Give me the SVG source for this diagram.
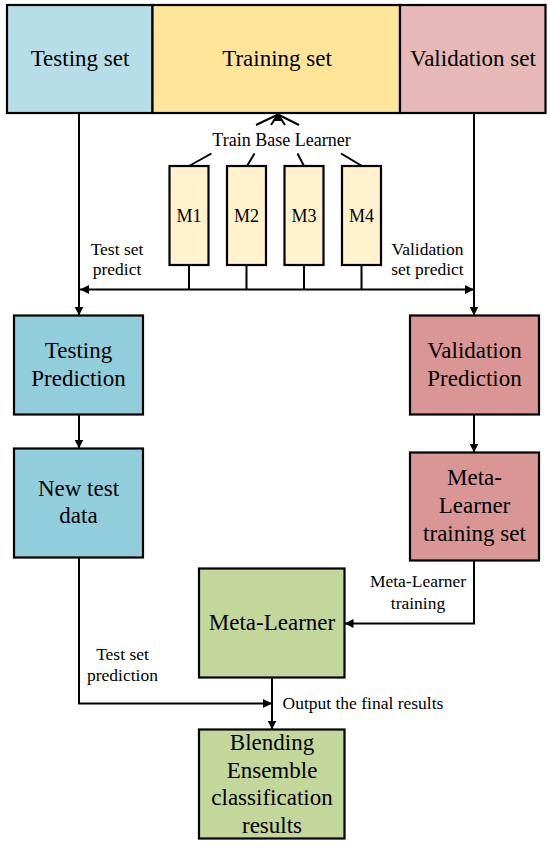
<svg xmlns="http://www.w3.org/2000/svg" width="550" height="848" viewBox="0 0 550 848">
<defs>
<marker id="ah" viewBox="0 0 10 10" refX="10" refY="5" markerWidth="9" markerHeight="9" markerUnits="userSpaceOnUse" orient="auto">
<path d="M0,0 L10,5 L0,10 z" fill="#000"/>
</marker>
</defs>
<style>
.box{stroke:#000;stroke-width:2.2}
.big{font-family:"Liberation Serif","Times New Roman",serif;font-size:23px;fill:#000;text-anchor:middle}
.sm{font-family:"Liberation Serif","Times New Roman",serif;font-size:17.5px;fill:#000;text-anchor:middle}
.mt{font-family:"Liberation Serif","Times New Roman",serif;font-size:18px;fill:#000;text-anchor:middle}
.ln{stroke:#000;stroke-width:2;fill:none}
.arr{stroke:#000;stroke-width:2;fill:none;marker-end:url(#ah)}
</style>
<rect width="550" height="848" fill="#fff"/>
<g id="testing-set">
<rect class="box" x="7" y="5" width="145.5" height="108" fill="#b7dee8"/>
<text class="big" x="80" y="66">Testing set</text>
</g>
<g id="training-set">
<rect class="box" x="152.5" y="5" width="247.5" height="108" fill="#fee599"/>
<text class="big" x="277" y="66">Training set</text>
</g>
<g id="validation-set">
<rect class="box" x="400" y="5" width="145.5" height="108" fill="#e6b8b7"/>
<text class="big" x="473" y="66">Validation set</text>
</g>
<g id="m1"><rect class="box" x="169.5" y="166" width="39" height="99" fill="#fff2cc"/><text class="mt" x="189" y="222">M1</text></g>
<g id="m2"><rect class="box" x="227" y="166" width="39" height="99" fill="#fff2cc"/><text class="mt" x="246.5" y="222">M2</text></g>
<g id="m3"><rect class="box" x="284.5" y="166" width="39" height="99" fill="#fff2cc"/><text class="mt" x="304" y="222">M3</text></g>
<g id="m4"><rect class="box" x="342" y="166" width="39" height="99" fill="#fff2cc"/><text class="mt" x="361.5" y="222">M4</text></g>
<g id="testing-prediction">
<rect class="box" x="14" y="315.5" width="129" height="99" fill="#92cddc"/>
<text class="big" x="78.5" y="358">Testing</text>
<text class="big" x="78.5" y="386">Prediction</text>
</g>
<g id="validation-prediction">
<rect class="box" x="410" y="315.5" width="129" height="99" fill="#da9694"/>
<text class="big" x="474.5" y="358">Validation</text>
<text class="big" x="474.5" y="386">Prediction</text>
</g>
<g id="new-test-data">
<rect class="box" x="14" y="448.5" width="129" height="109" fill="#92cddc"/>
<text class="big" x="78.5" y="496">New test</text>
<text class="big" x="78.5" y="523">data</text>
</g>
<g id="meta-training-set">
<rect class="box" x="410" y="452.5" width="129" height="108" fill="#da9694"/>
<text class="big" x="474.5" y="485">Meta-</text>
<text class="big" x="474.5" y="513">Learner</text>
<text class="big" x="474.5" y="541">training set</text>
</g>
<g id="meta-learner">
<rect class="box" x="199" y="568.5" width="145.5" height="109" fill="#c4d79b"/>
<text class="big" x="272" y="630">Meta-Learner</text>
</g>
<g id="blending">
<rect class="box" x="199" y="729.5" width="145.5" height="109" fill="#c4d79b"/>
<text class="big" x="272" y="750">Blending</text>
<text class="big" x="272" y="777.5">Ensemble</text>
<text class="big" x="272" y="805">classification</text>
<text class="big" x="272" y="832.5">results</text>
</g>
<g id="connectors">
<path class="ln" d="M256,125 L278,114.5 M271,125 L278,114.5 M285,125 L278,114.5 M299,125 L278,114.5"/>
<path d="M278,113.5 L272.5,121 L283.5,121 z" fill="#000"/>
<path class="ln" d="M189,166 L211.5,153.5 M247,166 L254.5,153.5 M304,166 L297.5,153.5 M362,166 L341,153.5"/>
<path class="ln" d="M189,265 V289.5 M246.5,265 V289.5 M304,265 V289.5 M361.5,265 V289.5"/>
<path class="arr" d="M272,289.5 H80"/>
<path class="arr" d="M272,289.5 H474"/>
<path class="arr" d="M79,113 V315.5"/>
<path class="arr" d="M474,113 V315.5"/>
<path class="arr" d="M79,414.5 V448.5"/>
<path class="arr" d="M474,414.5 V452.5"/>
<path class="arr" d="M474,560.5 V623.5 H344.5"/>
<path class="arr" d="M79,557.5 V703.5 H272"/>
<path class="arr" d="M272,677.5 V729.5"/>
</g>
<g id="labels">
<text class="mt" x="281.5" y="145.5">Train Base Learner</text>
<text class="sm" x="117" y="255">Test set</text>
<text class="sm" x="117" y="275">predict</text>
<text class="sm" x="427.5" y="255">Validation</text>
<text class="sm" x="427.5" y="275">set predict</text>
<text class="sm" x="418" y="587">Meta-Learner</text>
<text class="sm" x="418" y="608.5">training</text>
<text class="sm" x="122.5" y="659.5">Test set</text>
<text class="sm" x="122.5" y="681">prediction</text>
<text class="sm" x="282.5" y="708.5" style="text-anchor:start">Output the final results</text>
</g>
</svg>
